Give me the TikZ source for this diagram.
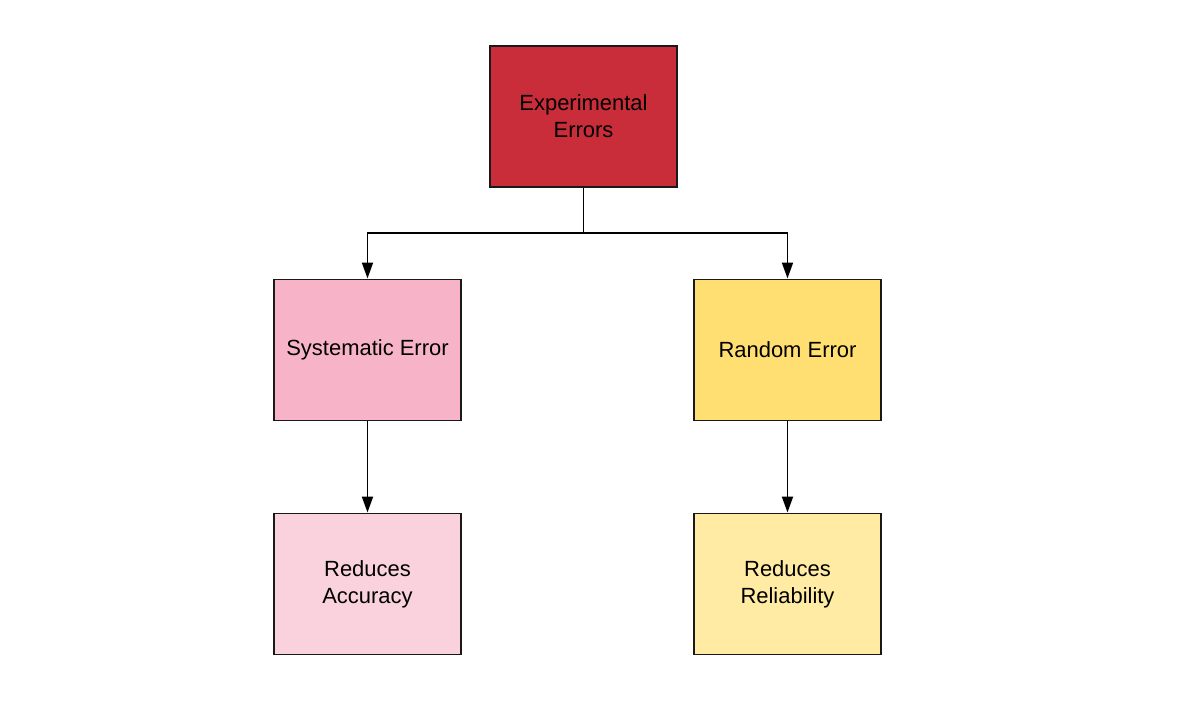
\documentclass[tikz,border=0pt]{standalone}
\usepackage{fontspec}
\setmainfont{Liberation Sans}
\usetikzlibrary{arrows.meta}
\definecolor{errred}{HTML}{C92D39}
\definecolor{syspink}{HTML}{F7B4C8}
\definecolor{accpink}{HTML}{F9D2DE}
\definecolor{randyellow}{HTML}{FFDF71}
\definecolor{relyellow}{HTML}{FFEBA3}
\tikzset{
	errbox/.style={draw=black!90, line width=1.1pt, minimum width=3.74cm, minimum height=2.82cm, align=center, font=\fontsize{12.5}{15.3}\selectfont},
	arr/.style={line width=1.1pt, -{Triangle[length=0.32cm, width=0.22cm]}}
}

\begin{document}
\begin{tikzpicture}
			%%%%% START %%%%%
			\useasboundingbox (0, 0) rectangle (23.92, -14.04);
			
			\node[errbox, fill=errred] (exp) at (11.67, -2.33) {Experimental\\Errors};
			
			\node[errbox, fill=syspink] (sys) at (7.35, -7.0) {Systematic Error};
			\node[errbox, fill=randyellow] (rand) at (15.75, -7.0) {Random Error};
			
			\node[errbox, fill=accpink] (acc) at (7.35, -11.68) {Reduces\\Accuracy};
			\node[errbox, fill=relyellow] (rel) at (15.75, -11.68) {Reduces\\Reliability};
			
			\coordinate (split) at (11.67, -4.66);
			\draw[line width=1.1pt] (exp.south) -- (split);
			\draw[arr] (split) -| (sys.north);
			\draw[arr] (split) -| (rand.north);
			
			\draw[arr] (sys.south) -- (acc.north);
			\draw[arr] (rand.south) -- (rel.north);
			
			%%%%% END %%%%%
		\end{tikzpicture}
\end{document}
